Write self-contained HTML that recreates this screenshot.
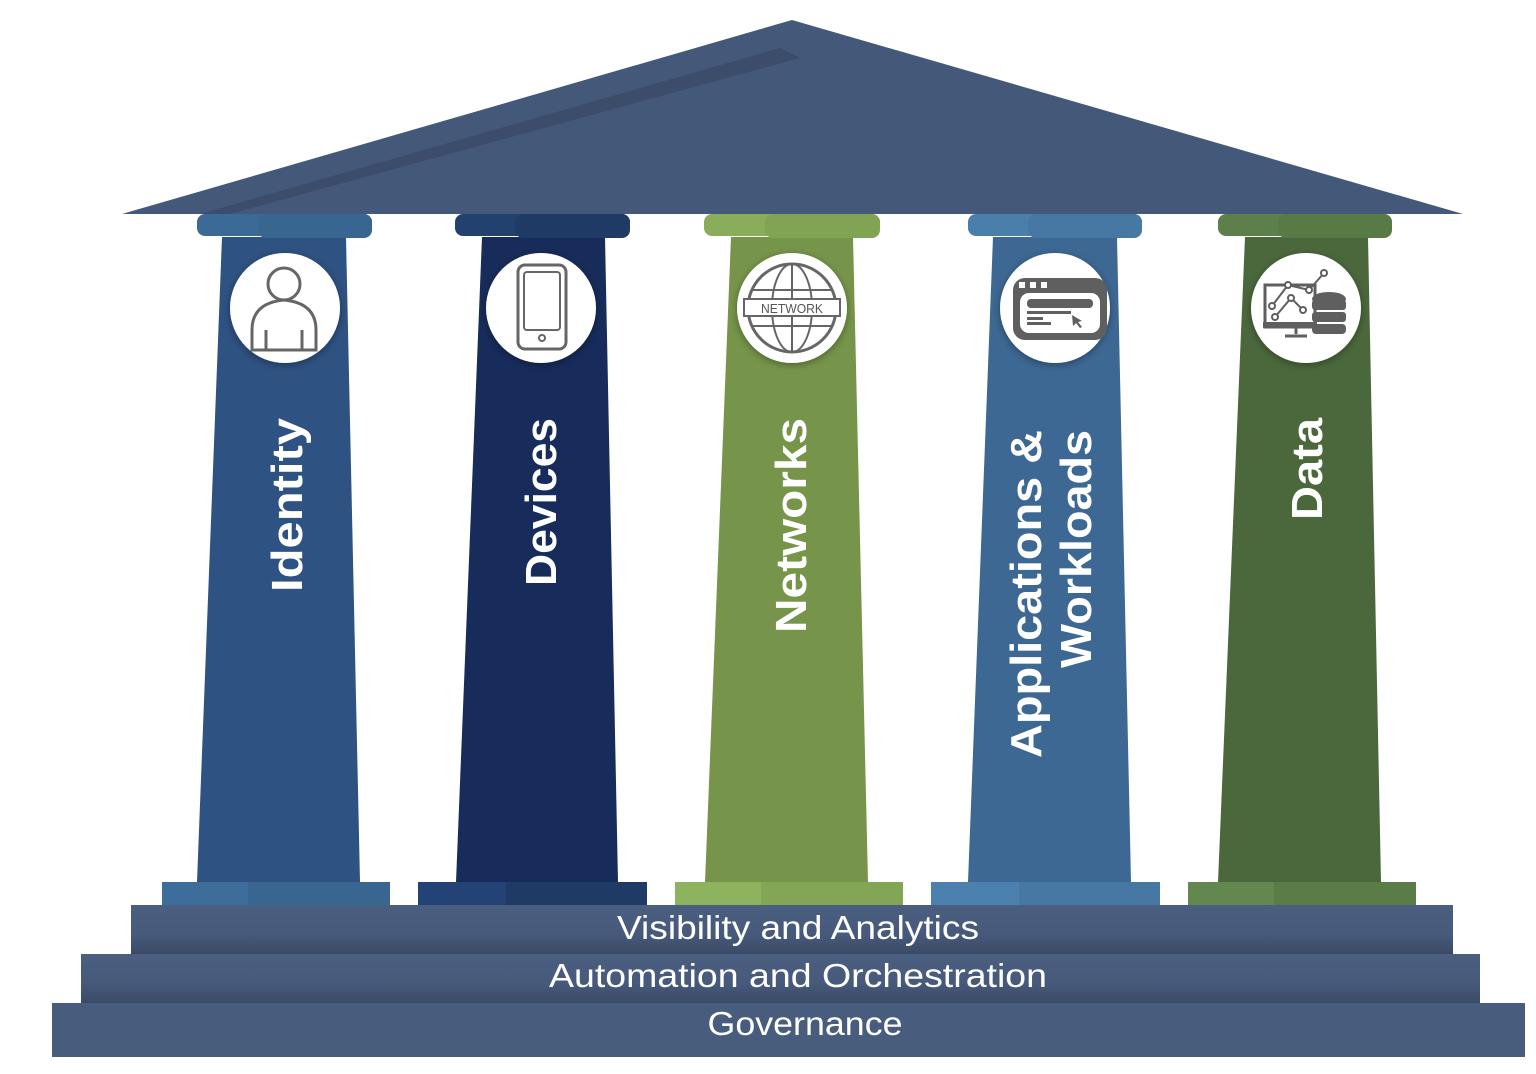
<!DOCTYPE html>
<html><head><meta charset="utf-8"><style>
html,body{margin:0;padding:0;background:#fff;width:1536px;height:1074px;overflow:hidden}
svg{display:block}
</style></head><body>
<svg width="1536" height="1074" viewBox="0 0 1536 1074" xmlns="http://www.w3.org/2000/svg">
<defs>
<filter id="sh" x="-30%" y="-30%" width="160%" height="160%"><feDropShadow dx="0" dy="2" stdDeviation="4" flood-color="#000" flood-opacity="0.35"/></filter>
<linearGradient id="st" x1="0" y1="0" x2="0" y2="1"><stop offset="0" stop-color="#4a5e80"/><stop offset="0.6" stop-color="#475a7b"/><stop offset="1" stop-color="#3a4a66"/></linearGradient>
</defs>
<!-- roof -->
<polygon points="792,20 1463,214 122,214" fill="#44587a"/>
<polygon points="200,214 780,48 800,58 230,214" fill="#3c4d6c"/>
<!-- columns -->
<g id="cols">
<!-- Identity -->
<polygon points="222,237 346,237 360,882 197,882" fill="#2e5282"/>
<rect x="197" y="214" width="175" height="22" rx="8" fill="#3b6a96"/>
<rect x="258" y="214" width="114" height="24" rx="8" fill="#386690"/>
<rect x="162" y="882" width="228" height="24" fill="#386690"/>
<rect x="162" y="882" width="86" height="24" fill="#3d6d9b"/>
<!-- Devices -->
<polygon points="482,237 605,237 618,882 456,882" fill="#172c5a"/>
<rect x="455" y="214" width="175" height="22" rx="8" fill="#22416f"/>
<rect x="515" y="214" width="115" height="24" rx="8" fill="#1f3a64"/>
<rect x="418" y="882" width="229" height="24" fill="#1f3a64"/>
<rect x="418" y="882" width="88" height="24" fill="#234275"/>
<!-- Networks -->
<polygon points="731,237 853,237 868,882 705,882" fill="#76954a"/>
<rect x="704" y="214" width="176" height="22" rx="8" fill="#89ad5a"/>
<rect x="765" y="214" width="115" height="24" rx="8" fill="#80a354"/>
<rect x="675" y="882" width="228" height="24" fill="#82a656"/>
<rect x="675" y="882" width="86" height="24" fill="#8db35e"/>
<!-- Apps -->
<polygon points="993,237 1117,237 1131,882 968,882" fill="#3d6893"/>
<rect x="968" y="214" width="174" height="22" rx="8" fill="#4a7eab"/>
<rect x="1028" y="214" width="114" height="24" rx="8" fill="#4678a3"/>
<rect x="931" y="882" width="229" height="24" fill="#4678a3"/>
<rect x="931" y="882" width="88" height="24" fill="#4c80ae"/>
<!-- Data -->
<polygon points="1245,237 1368,237 1381,882 1218,882" fill="#4b683c"/>
<rect x="1218" y="214" width="174" height="22" rx="8" fill="#5d7f49"/>
<rect x="1278" y="214" width="114" height="24" rx="8" fill="#587a45"/>
<rect x="1188" y="882" width="228" height="24" fill="#5a7d48"/>
<rect x="1188" y="882" width="86" height="24" fill="#62874f"/>
</g>
<!-- steps -->
<rect x="131" y="905" width="1322" height="49" fill="url(#st)"/>
<rect x="81" y="954" width="1399" height="49" fill="url(#st)"/>
<rect x="52" y="1003" width="1473" height="54" fill="#485c7d"/>
<g font-family="Liberation Sans, sans-serif" fill="#fff" font-size="33" text-anchor="middle">
<text x="798" y="939" textLength="362" lengthAdjust="spacingAndGlyphs">Visibility and Analytics</text>
<text x="798" y="987" textLength="498" lengthAdjust="spacingAndGlyphs">Automation and Orchestration</text>
<text x="805" y="1035" textLength="195" lengthAdjust="spacingAndGlyphs">Governance</text>
</g>
<!-- icons -->
<g filter="url(#sh)" fill="#fff">
<circle cx="285" cy="308" r="55"/><circle cx="541" cy="308" r="55"/><circle cx="792" cy="308" r="55"/><circle cx="1055" cy="308" r="55"/><circle cx="1306" cy="308" r="55"/>
</g>
<g fill="none" stroke="#666" stroke-width="3">
<circle cx="284" cy="284" r="16"/>
<path d="M252,350 V330 Q252,303 284,300 Q316,303 316,330 V350 Z"/>
<path d="M266,350 V330 M302,350 V330"/>
<rect x="518" y="265" width="48" height="84" rx="7"/>
<rect x="524" y="272" width="36" height="58" rx="3" stroke-width="2"/>
<circle cx="542" cy="338" r="3" stroke-width="2"/>
<circle cx="792" cy="308" r="44" stroke-width="3"/>
<ellipse cx="792" cy="308" rx="20" ry="44" stroke-width="2"/>
<path d="M792,264 V352 M752,290 H832 M752,326 H832" stroke-width="2"/>
</g>
<rect x="744" y="299" width="96" height="17" fill="#fff" stroke="#666" stroke-width="2"/>
<text x="792" y="313" font-family="Liberation Sans, sans-serif" font-size="13" fill="#555" text-anchor="middle" textLength="62" lengthAdjust="spacingAndGlyphs">NETWORK</text>
<!-- app icon -->
<rect x="1013" y="278" width="94" height="62" rx="12" fill="#5f5f5f"/>
<rect x="1020" y="293" width="80" height="40" rx="9" fill="#fff"/>
<rect x="1019" y="282" width="6" height="6" fill="#fff"/><rect x="1030" y="282" width="6" height="6" fill="#fff"/><rect x="1041" y="282" width="6" height="6" fill="#fff"/>
<rect x="1027" y="299" width="66" height="9" rx="4" fill="#5f5f5f"/>
<rect x="1027" y="311" width="44" height="3" fill="#5f5f5f"/><rect x="1027" y="317" width="16" height="3" fill="#5f5f5f"/><rect x="1027" y="322" width="24" height="3" fill="#5f5f5f"/>
<path d="M1072,315 l10,6 -4,1 4,5 -2,1 -4,-5 -3,3 z" fill="#5f5f5f"/>
<!-- data icon -->
<rect x="1265" y="285" width="50" height="42" fill="none" stroke="#5f5f5f" stroke-width="3"/>
<rect x="1263" y="322" width="54" height="6" fill="#5f5f5f"/>
<path d="M1296,328 v6 M1285,336 h22" stroke="#5f5f5f" stroke-width="3"/>
<polyline points="1272,306 1288,285 1309,290 1324,273" fill="none" stroke="#5f5f5f" stroke-width="2"/>
<polyline points="1275,317 1291,298 1303,310" fill="none" stroke="#5f5f5f" stroke-width="2"/>
<g fill="#fff" stroke="#5f5f5f" stroke-width="2"><circle cx="1272" cy="306" r="3"/><circle cx="1288" cy="285" r="3"/><circle cx="1309" cy="290" r="3"/><circle cx="1324" cy="273" r="3"/><circle cx="1275" cy="317" r="3"/><circle cx="1291" cy="298" r="3"/><circle cx="1303" cy="310" r="3"/></g>
<g fill="#5f5f5f"><ellipse cx="1329" cy="299" rx="17" ry="7"/><rect x="1312" y="300" width="34" height="10" rx="3"/><rect x="1312" y="312" width="34" height="10" rx="3"/><rect x="1312" y="324" width="34" height="10" rx="4"/></g>
<!-- column labels -->
<g font-family="Liberation Sans, sans-serif" font-weight="bold" fill="#fff" font-size="44" text-anchor="end">
<text transform="translate(302,418) rotate(-90)" textLength="174" lengthAdjust="spacingAndGlyphs">Identity</text>
<text transform="translate(556,418) rotate(-90)" textLength="168" lengthAdjust="spacingAndGlyphs">Devices</text>
<text transform="translate(806,418) rotate(-90)" textLength="215" lengthAdjust="spacingAndGlyphs">Networks</text>
<text transform="translate(1041,430) rotate(-90)" textLength="328" lengthAdjust="spacingAndGlyphs">Applications &amp;</text>
<text transform="translate(1091,430) rotate(-90)" textLength="238" lengthAdjust="spacingAndGlyphs">Workloads</text>
<text transform="translate(1322,418) rotate(-90)" textLength="102" lengthAdjust="spacingAndGlyphs">Data</text>
</g>
</svg>
</body></html>
